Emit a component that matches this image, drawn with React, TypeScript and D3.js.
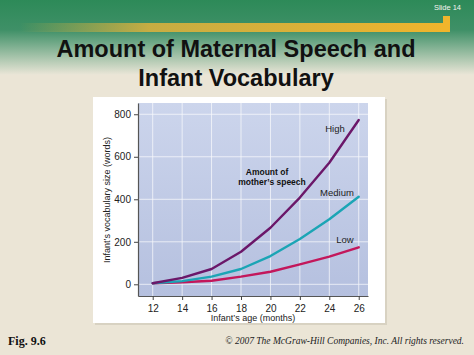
import * as d3 from 'd3';
import { useEffect, useRef } from 'react';

const months = [12, 14, 16, 18, 20, 22, 24, 26];
const highSpeech = [5, 30, 72, 153, 266, 408, 572, 773];
const mediumSpeech = [5, 15, 36, 72, 133, 213, 306, 412];
const lowSpeech = [5, 10, 17, 36, 59, 94, 130, 174];
const yTicks = [0, 200, 400, 600, 800];
const seriesNames = ['High', 'Medium', 'Low'];
const seriesColors = ['#6b1769', '#1ba5b5', '#c3175b'];

const W = 474, H = 355;

export default function App() {
  const ref = useRef<SVGSVGElement>(null);

  useEffect(() => {
    const svg = d3.select(ref.current);
    svg.selectAll('*').remove();

    const defs = svg.append('defs');
    const band = defs.append('linearGradient').attr('id', 'band').attr('x1', 0).attr('y1', 0).attr('x2', 0).attr('y2', 1);
    band.append('stop').attr('offset', '0%').attr('stop-color', '#2d8a58');
    band.append('stop').attr('offset', '40%').attr('stop-color', '#3f9067');
    band.append('stop').attr('offset', '100%').attr('stop-color', '#ebe6d8');
    const gold = defs.append('linearGradient').attr('id', 'gold').attr('x1', 0).attr('y1', 0).attr('x2', 1).attr('y2', 0);
    gold.append('stop').attr('offset', '0%').attr('stop-color', '#e8b43a').attr('stop-opacity', 0);
    gold.append('stop').attr('offset', '30%').attr('stop-color', '#e8b43a').attr('stop-opacity', 0.8);
    gold.append('stop').attr('offset', '100%').attr('stop-color', '#f0b52c');
    const plotBg = defs.append('linearGradient').attr('id', 'plotbg').attr('x1', 0).attr('y1', 0).attr('x2', 0).attr('y2', 1);
    plotBg.append('stop').attr('offset', '0%').attr('stop-color', '#ccd5ec');
    plotBg.append('stop').attr('offset', '100%').attr('stop-color', '#b5c0df');

    // slide background
    svg.append('rect').attr('width', W).attr('height', H).attr('fill', '#ebe5d6');
    svg.append('rect').attr('width', W).attr('height', 75).attr('fill', 'url(#band)');
    svg.append('rect').attr('x', 20).attr('y', 23).attr('width', 430).attr('height', 9).attr('fill', 'url(#gold)');
    svg.append('rect').attr('x', 443).attr('y', 16).attr('width', 7).attr('height', 16).attr('fill', '#f0b52c');
    svg.append('text').attr('x', 461).attr('y', 10).attr('text-anchor', 'end')
      .attr('font-family', 'Liberation Sans, Arial, sans-serif').attr('font-size', 7.5).attr('fill', '#f4f4f0')
      .text('Slide 14');

    const title = svg.append('text').attr('text-anchor', 'middle')
      .attr('font-family', 'Liberation Sans, Arial, sans-serif').attr('font-weight', 'bold')
      .attr('font-size', 23.5).attr('fill', '#111');
    title.append('tspan').attr('x', 236).attr('y', 57).text('Amount of Maternal Speech and');
    title.append('tspan').attr('x', 236).attr('y', 86).text('Infant Vocabulary');

    // figure panel
    svg.append('rect').attr('x', 95).attr('y', 99).attr('width', 292).attr('height', 226).attr('fill', '#d8d2c2');
    svg.append('rect').attr('x', 93).attr('y', 97).attr('width', 292).attr('height', 226).attr('fill', '#ffffff');

    const x = d3.scaleLinear().domain([11, 26.63]).range([138, 368]);
    const y = d3.scaleLinear().domain([-55, 853]).range([296, 103]);

    svg.append('rect').attr('x', 138).attr('y', 103).attr('width', 230).attr('height', 193).attr('fill', 'url(#plotbg)');

    const grid = svg.append('g').attr('stroke', '#ffffff').attr('stroke-width', 0.8).attr('opacity', 0.85);
    grid.selectAll('.vg').data(months).enter().append('line')
      .attr('x1', d => x(d)).attr('x2', d => x(d)).attr('y1', 103).attr('y2', 296);
    grid.selectAll('.hg').data(yTicks).enter().append('line')
      .attr('x1', 138).attr('x2', 368).attr('y1', d => y(d)).attr('y2', d => y(d));

    const xAxis = svg.append('g').attr('transform', 'translate(0,296)')
      .call(d3.axisBottom(x).tickValues(months).tickSize(4).tickSizeOuter(0));
    const yAxis = svg.append('g').attr('transform', 'translate(138,0)')
      .call(d3.axisLeft(y).tickValues(yTicks).tickSize(4).tickSizeOuter(0));
    [xAxis, yAxis].forEach(a => {
      a.select('.domain').attr('stroke', '#555').attr('stroke-width', 1.2);
      a.selectAll('.tick line').attr('stroke', '#444');
      a.selectAll('.tick text').attr('fill', '#222').attr('font-size', 10)
        .attr('font-family', 'Liberation Sans, Arial, sans-serif');
    });
    xAxis.selectAll('.tick text').attr('dy', '0.85em');

    svg.append('text').attr('x', 253).attr('y', 321).attr('text-anchor', 'middle')
      .attr('font-family', 'Liberation Sans, Arial, sans-serif').attr('font-size', 9).attr('fill', '#222')
      .text("Infant\u2019s age (months)");
    svg.append('text').attr('transform', 'translate(110,200) rotate(-90)').attr('text-anchor', 'middle')
      .attr('font-family', 'Liberation Sans, Arial, sans-serif').attr('font-size', 9).attr('fill', '#222')
      .text("Infant\u2019s vocabulary size (words)");

    const line = d3.line<number>().x((_, i) => x(months[i])).y(d => y(d));
    const seriesData = [lowSpeech, mediumSpeech, highSpeech];
    const order = [2, 1, 0];
    seriesData.forEach((vals, k) => {
      svg.append('path').attr('d', line(vals) as string).attr('fill', 'none')
        .attr('stroke', seriesColors[order[k]]).attr('stroke-width', 2.4)
        .attr('stroke-linecap', 'round').attr('stroke-linejoin', 'round');
    });

    const labelPos = [[335, 132], [337, 196], [345, 243]];
    seriesNames.forEach((n, i) => {
      svg.append('text').attr('x', labelPos[i][0]).attr('y', labelPos[i][1]).attr('text-anchor', 'middle')
        .attr('font-family', 'Liberation Sans, Arial, sans-serif').attr('font-size', 9.5).attr('fill', '#222')
        .text(n);
    });
    const ann = svg.append('text').attr('text-anchor', 'middle')
      .attr('font-family', 'Liberation Sans, Arial, sans-serif').attr('font-size', 8.5)
      .attr('font-weight', 'bold').attr('fill', '#111');
    ann.append('tspan').attr('x', 267).attr('y', 175).text('Amount of');
    ann.append('tspan').attr('x', 272).attr('y', 184.5).text("mother\u2019s speech");

    // footer
    svg.append('text').attr('x', 8).attr('y', 345)
      .attr('font-family', 'Liberation Serif, Times New Roman, serif').attr('font-weight', 'bold')
      .attr('font-size', 12).attr('fill', '#111').text('Fig. 9.6');
    svg.append('text').attr('x', 464).attr('y', 344).attr('text-anchor', 'end')
      .attr('font-family', 'Liberation Serif, Times New Roman, serif').attr('font-style', 'italic')
      .attr('font-size', 9.5).attr('fill', '#222')
      .text('\u00a9 2007 The McGraw-Hill Companies, Inc. All rights reserved.');
  }, []);

  return (
    <div style={{ position: 'absolute', left: 0, top: 0 }}>
      <svg ref={ref} width={W} height={H} style={{ display: 'block' }}></svg>
    </div>
  );
}
